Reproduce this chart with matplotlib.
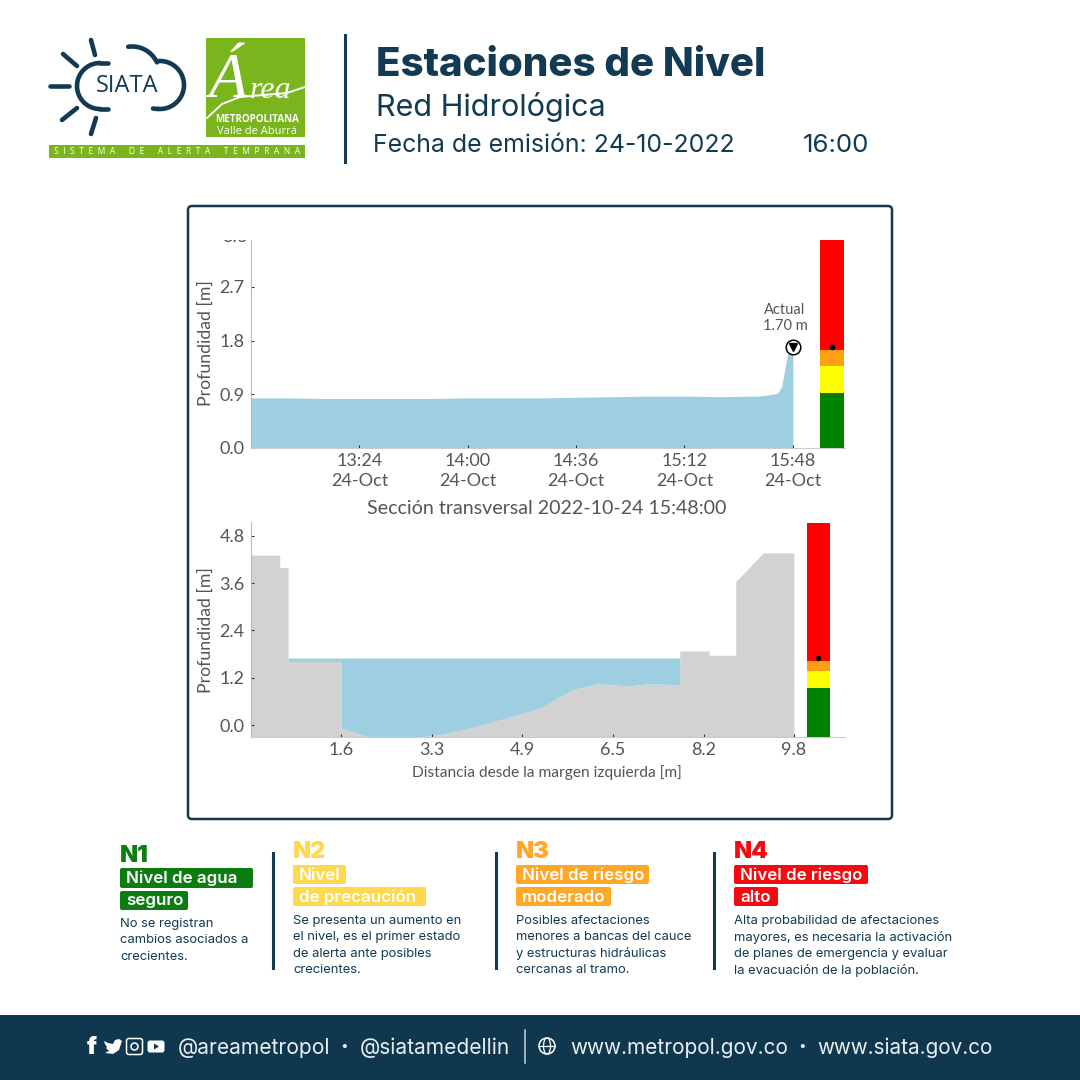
import numpy as np
import matplotlib
matplotlib.use("Agg")
import matplotlib.pyplot as plt
from matplotlib.patches import FancyBboxPatch, Rectangle, Circle, Polygon
from matplotlib.transforms import Bbox

# nivel vs tiempo (minutos desde medianoche)
levelMinutes = [768, 780, 792, 804, 816, 828, 840, 852, 864, 876, 888, 900, 912, 924, 936, 940, 943, 944.3, 946.4, 948]
levelDepth = [0.84, 0.84, 0.83, 0.83, 0.83, 0.83, 0.84, 0.84, 0.84, 0.85, 0.86, 0.87, 0.87, 0.86, 0.87, 0.89, 0.92, 1.03, 1.61, 1.70]
levelTicks = [804, 840, 876, 912, 948]
levelTickLabels = ["13:24\n24-Oct", "14:00\n24-Oct", "14:36\n24-Oct", "15:12\n24-Oct", "15:48\n24-Oct"]
levelYTicks = [0.0, 0.9, 1.8, 2.7]

# seccion transversal
sectionX = [0, 0.52, 0.52, 0.67, 0.67, 1.63, 1.63, 2.11, 2.7, 3.38, 3.8, 4.25, 5.22, 5.79, 6.27, 6.81, 7.2, 7.74, 7.74, 8.27, 8.27, 8.75, 8.75, 9.25, 9.8]
sectionY = [4.31, 4.31, 4.0, 4.0, 1.61, 1.61, -0.08, -0.3, -0.36, -0.25, -0.13, 0.03, 0.43, 0.89, 1.05, 0.99, 1.05, 1.02, 1.88, 1.88, 1.77, 1.77, 3.64, 4.37, 4.37]
waterX = [0.67, 1.63, 1.63, 2.11, 2.7, 3.38, 3.8, 4.25, 5.22, 5.79, 6.27, 6.81, 7.2, 7.74]
waterBottom = [1.61, 1.61, -0.08, -0.3, -0.36, -0.25, -0.13, 0.03, 0.43, 0.89, 1.05, 0.99, 1.05, 1.02]
waterLevel = 1.70
sectionTicks = [1.63, 3.27, 4.9, 6.53, 8.17, 9.8]
sectionTickLabels = ["1.6", "3.3", "4.9", "6.5", "8.2", "9.8"]
sectionYTicks = [0.0, 1.2, 2.4, 3.6, 4.8]

# umbrales de las barras de colores
levelThresholds = [0.0, 0.92, 1.37, 1.64, 3.49]
sectionThresholds = [-0.3, 0.93, 1.37, 1.62, 5.13]
thresholdColors = ["#008000", "#ffff00", "#ffa011", "#ff0000"]

NAVY = "#123a52"
GREEN = "#7ab51d"
WATER = "#9dcfe0"
GROUND = "#d2d2d2"
CHART_TEXT = "#555555"

def pxAxes(fig, x0, y0, x1, y1):
    return fig.add_axes([x0 / 1080, 1 - y1 / 1080, (x1 - x0) / 1080, (y1 - y0) / 1080])

def styleChart(ax, xPad):
    ax.patch.set_alpha(0)
    for s in ["top", "right"]:
        ax.spines[s].set_visible(False)
    ax.spines["left"].set_color("#bbbbbb")
    ax.spines["bottom"].set_color("#cccccc")
    ax.tick_params(axis="both", direction="in", length=2.5, width=0.8, color="#333333",
                   labelcolor=CHART_TEXT, labelsize=13)
    ax.tick_params(axis="y", pad=4.5)
    ax.tick_params(axis="x", pad=xPad)
    for lab in ax.get_xticklabels() + ax.get_yticklabels():
        lab.set_family("Lato")
        lab.set_linespacing(1.3)

def stackedBar(ax, center, width, thresholds):
    for i, c in enumerate(thresholdColors):
        ax.bar(center, thresholds[i + 1] - thresholds[i], width, bottom=thresholds[i], color=c, zorder=3, clip_on=False)

def arc(bg, cx, cy, r, a0, a1, lw=3.3):
    t = np.radians(np.linspace(a0, a1, 40))
    bg.plot(cx + r * np.cos(t), cy - r * np.sin(t), color=NAVY, lw=lw, solid_capstyle="round")

def drawHeader(bg):
    # logo SIATA
    arc(bg, 100, 86, 23, 90, 270)
    bg.plot([100, 108], [63, 63], color=NAVY, lw=3.3, solid_capstyle="round")
    bg.plot([100, 108], [109, 109], color=NAVY, lw=3.3, solid_capstyle="round")
    arc(bg, 132, 74, 27.5, 98, 25)
    arc(bg, 160, 85, 24, 95, -95)
    bg.plot([158, 153], [109, 108.5], color=NAVY, lw=3.3, solid_capstyle="round")
    for (xa, ya, xb, yb) in [(91, 40, 95, 55), (63, 54, 77, 66), (50, 86, 69, 86), (62, 120, 77, 108), (91, 134, 96, 118)]:
        bg.plot([xa, xb], [ya, yb], color=NAVY, lw=3.3, solid_capstyle="round")
    bg.text(127, 86, "SIATA", family="Open Sans", weight="medium", fontsize=17, color=NAVY, ha="center", va="center")
    # logo Area
    bg.add_patch(Rectangle((206, 38), 99, 99, color=GREEN, lw=0))
    bg.text(228, 82, "Á", family="Liberation Serif", style="italic", fontsize=46, color="white", ha="center", va="center")
    bg.text(271, 90, "rea", family="Liberation Serif", style="italic", fontsize=23, color="white", ha="center", va="center")
    bg.plot([207, 222, 240, 287, 305], [118, 104, 97, 93, 87], color="white", lw=1.4)
    bg.text(257, 120, "METROPOLITANA", family="Open Sans", weight="bold", fontsize=7, color="white", ha="center", va="center")
    bg.text(257, 131, "Valle de Aburrá", family="Open Sans", fontsize=8, color="white", ha="center", va="center")
    bg.add_patch(Rectangle((49, 145), 256, 13, color=GREEN, lw=0))
    bg.text(177, 151.5, "S  I  S  T  E  M  A      D  E      A  L  E  R  T  A      T  E  M  P  R  A  N  A", family="Open Sans",
            fontsize=6.15, color="white", ha="center", va="center")
    # titulos
    bg.plot([345, 345], [35, 162], color=NAVY, lw=2.2)
    bg.text(376, 65, "Estaciones de Nivel", family="Inter", weight="extra bold", fontsize=29, color=NAVY, va="center")
    bg.text(376, 106.5, "Red Hidrológica", family="Inter", fontsize=22, color=NAVY, va="center")
    bg.text(373, 145.5, "Fecha de emisión: 24-10-2022", family="Inter", fontsize=17.9, color=NAVY, va="center")
    bg.text(803, 145.5, "16:00", family="Inter", fontsize=18.7, color=NAVY, va="center")

def drawLegendColumn(bg, x, yTitle, title, color, badges, bodyLines, bodyY):
    bg.text(x, yTitle + 1.5, title, family="Inter", weight="black", fontsize=17, color=color, va="center")
    for (label, x1, y0, y1) in badges:
        bg.add_patch(FancyBboxPatch((x + 2, y0 + 2), x1 - x - 4, y1 - y0 - 4, boxstyle="round,pad=2", color=color, lw=0))
        bg.text(x + 6, (y0 + y1) / 2 + 0.5, label, family="Inter", weight="semibold", fontsize=12.2, color="white", va="center")
    for i, line in enumerate(bodyLines):
        bg.text(x, bodyY + 1 + i * 16.4, line, family="Inter", fontsize=9.35, color=NAVY, va="center")

def drawLegend(bg):
    drawLegendColumn(bg, 120, 854, "N1", "#0d7d12",
                     [("Nivel de agua", 253, 868, 888), ("seguro", 188, 891, 910)],
                     ["No se registran", "cambios asociados a", "crecientes."], 923)
    drawLegendColumn(bg, 293, 851, "N2", "#ffd84d",
                     [("Nivel", 346, 865, 884), ("de precaución", 426, 887, 906)],
                     ["Se presenta un aumento en", "el nivel, es el primer estado", "de alerta ante posibles", "crecientes."], 920)
    drawLegendColumn(bg, 516, 851, "N3", "#ffa726",
                     [("Nivel de riesgo", 649, 865, 884), ("moderado", 611, 887, 906)],
                     ["Posibles afectaciones", "menores a bancas del cauce", "y estructuras hidráulicas", "cercanas al tramo."], 920)
    drawLegendColumn(bg, 734, 851, "N4", "#f50a12",
                     [("Nivel de riesgo", 868, 865, 884), ("alto", 778, 887, 906)],
                     ["Alta probabilidad de afectaciones", "mayores, es necesaria la activación", "de planes de emergencia y evaluar", "la evacuación de la población."], 920)
    for x in [273, 496, 714]:
        bg.plot([x, x], [853, 968], color=NAVY, lw=2.2)

def drawFooter(bg):
    bg.add_patch(Rectangle((0, 1015), 1080, 65, color="#0f374e", lw=0))
    white = "white"
    bg.text(92, 1048.5, "f", family="Inter", weight="black", fontsize=17, color=white, ha="center", va="center")
    bird = [(104, 1041), (108, 1043), (113, 1044), (115, 1040), (119, 1039), (122, 1041), (121, 1044), (119, 1050),
            (113, 1054), (105, 1053), (109, 1051), (106, 1048), (107, 1047), (105, 1044)]
    bg.add_patch(Polygon(bird, closed=True, color=white, lw=0))
    bg.add_patch(FancyBboxPatch((129, 1041), 11, 11, boxstyle="round,pad=2.5", fc="none", ec=white, lw=1.1))
    bg.add_patch(Circle((134.5, 1046.5), 3.5, fc="none", ec=white, lw=1.1))
    bg.add_patch(FancyBboxPatch((150, 1043), 12, 7, boxstyle="round,pad=2.5", color=white, lw=0))
    bg.add_patch(Polygon([(154, 1043.5), (154, 1049.5), (159, 1046.5)], closed=True, color="#0f374e", lw=0))
    for (s, xs, size) in [("@areametropol", 178, 15.1), ("@siatamedellin", 360, 15.1), ("www.metropol.gov.co", 570, 15.0), ("www.siata.gov.co", 817, 14.9)]:
        bg.text(xs, 1047.5, s, family="Inter", fontsize=size, color="#e8eef2", va="center")
    for xs in [344, 802]:
        bg.text(xs, 1047, "·", family="Inter", weight="black", fontsize=15, color="#e8eef2", ha="center", va="center")
    bg.plot([525, 525], [1030, 1063], color="#c8d4dc", lw=1.1)
    bg.add_patch(Circle((547, 1046), 8, fc="none", ec=white, lw=1.1))
    bg.plot([539, 555], [1046, 1046], color=white, lw=0.9)
    t = np.radians(np.linspace(0, 360, 60))
    bg.plot(547 + 3.5 * np.cos(t), 1046 + 8 * np.sin(t), color=white, lw=0.9)

def drawLevelChart(fig, bg):
    ax = pxAxes(fig, 251, 240, 845, 448)
    ax.fill_between(levelMinutes, 0, levelDepth, color=WATER, lw=0)
    ax.set_xlim(768, 768 + 594 / 3.01)
    ax.set_ylim(0, 208 / 53.7 * 0.9)
    ax.set_xticks(levelTicks)
    ax.set_xticklabels(levelTickLabels)
    ax.set_yticks(levelYTicks)
    ax.set_yticklabels(["%.1f" % v for v in levelYTicks])
    styleChart(ax, 3.5)
    stackedBar(ax, 961, 23.5 / 3.01, levelThresholds)
    ax.plot([961], [levelDepth[-1]], "o", color="black", ms=3, zorder=4)
    ax.plot([948], [levelDepth[-1]], "o", mfc="white", mec="black", mew=1.1, ms=10.5, zorder=4, clip_on=False)
    ax.plot([948], [levelDepth[-1]], "v", color="black", ms=5.5, zorder=5)
    bg.text(785, 318, "Actual\n1.70 m", family="Lato", fontsize=10.5, color=CHART_TEXT, ha="center", va="center", linespacing=1.15)
    bg.text(206, 343, "Profundidad [m]", family="Lato", fontsize=12.7, color=CHART_TEXT, rotation=90, ha="center", va="center")
    # etiqueta 3.6 cortada por el borde del grafico
    cut = bg.text(247, 237, "3.6", family="Lato", fontsize=13, color=CHART_TEXT, ha="right", va="center", clip_on=True)
    cut.set_clip_box(Bbox([[190, 1080 - 260], [250, 1080 - 240]]))

def drawSectionChart(fig, bg):
    ax = pxAxes(fig, 251, 522, 845, 737)
    ax.fill_between(sectionX, -0.5, sectionY, color=GROUND, lw=0)
    ax.fill_between(waterX, waterBottom, waterLevel, color=WATER, lw=0)
    ax.set_xlim(0, 594 / 55.4)
    ax.set_ylim(-12 / 39.4, 203 / 39.4)
    ax.set_xticks(sectionTicks)
    ax.set_xticklabels(sectionTickLabels)
    ax.set_yticks(sectionYTicks)
    ax.set_yticklabels(["%.1f" % v for v in sectionYTicks])
    styleChart(ax, 3.5)
    stackedBar(ax, 10.24, 23 / 55.4, sectionThresholds)
    ax.plot([10.24], [waterLevel], "o", color="black", ms=3, zorder=4)
    bg.text(547, 509, "Sección transversal 2022-10-24 15:48:00", family="Lato", fontsize=14.1, color=CHART_TEXT, ha="center", va="center")
    bg.text(547, 773, "Distancia desde la margen izquierda [m]", family="Lato", fontsize=11.15, color=CHART_TEXT, ha="center", va="center")
    bg.text(206, 630, "Profundidad [m]", family="Lato", fontsize=12.7, color=CHART_TEXT, rotation=90, ha="center", va="center")

def main():
    fig = plt.figure(figsize=(10.8, 10.8), dpi=100, facecolor="white")
    bg = fig.add_axes([0, 0, 1, 1])
    bg.set_xlim(0, 1080)
    bg.set_ylim(1080, 0)
    bg.axis("off")
    bg.add_patch(FancyBboxPatch((192, 210), 696, 605, boxstyle="round,pad=4", fc="white", ec=NAVY, lw=1.8))
    drawHeader(bg)
    drawLevelChart(fig, bg)
    drawSectionChart(fig, bg)
    drawLegend(bg)
    drawFooter(bg)
    fig.savefig("out.png", dpi=100)

if __name__ == "__main__":
    main()
